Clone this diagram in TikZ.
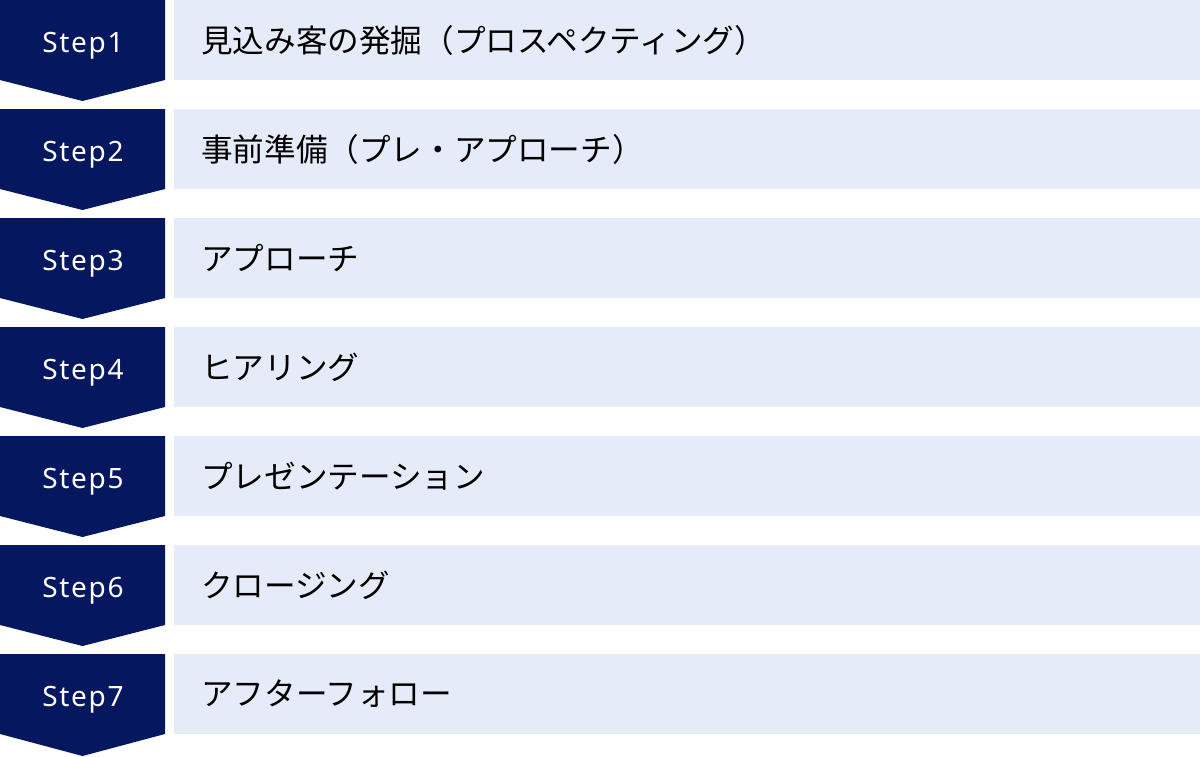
\documentclass[tikz,border=0pt]{standalone}
\usepackage{fontspec}
\setmainfont{Noto Sans}
\newfontfamily\jpfont{Noto Sans CJK JP}
\newfontfamily\stepfont[LetterSpace=6]{Noto Sans}
\definecolor{navy}{HTML}{04175F}
\definecolor{paleblue}{HTML}{E5EBF8}
\tikzset{
  stepbox/.style={fill=navy},
  taskbox/.style={fill=paleblue},
  steplabel/.style={anchor=base, text=white, font=\stepfont\fontsize{28}{33}\selectfont, inner sep=0pt},
  tasklabel/.style={anchor=west, text=black, font=\jpfont\fontsize{31.6}{37}\selectfont, inner sep=0pt}
}
\begin{document}
\begin{tikzpicture}[x=1pt,y=-1pt]
\useasboundingbox (0,0) rectangle (1200,756);

% step 1
\fill[stepbox] (0,0) -- (165,0) -- (165,80) -- (82.5,101) -- (0,80) -- cycle;
\fill[taskbox] (174,0) rectangle (1200,80);
\node[steplabel] (s1) at (83,52) {Step1};
\node[tasklabel] (t1) at (201,40) {見込み客の発掘（プロスペクティング）};

% step 2
\fill[stepbox] (0,109) -- (165,109) -- (165,189) -- (82.5,210) -- (0,189) -- cycle;
\fill[taskbox] (174,109) rectangle (1200,189);
\node[steplabel] (s2) at (83,161) {Step2};
\node[tasklabel] (t2) at (201,149) {事前準備（プレ・アプローチ）};

% step 3
\fill[stepbox] (0,218) -- (165,218) -- (165,298) -- (82.5,319) -- (0,298) -- cycle;
\fill[taskbox] (174,218) rectangle (1200,298);
\node[steplabel] (s3) at (83,270) {Step3};
\node[tasklabel] (t3) at (201,258) {アプローチ};

% step 4
\fill[stepbox] (0,327) -- (165,327) -- (165,407) -- (82.5,428) -- (0,407) -- cycle;
\fill[taskbox] (174,327) rectangle (1200,407);
\node[steplabel] (s4) at (83,379) {Step4};
\node[tasklabel] (t4) at (201,367) {ヒアリング};

% step 5
\fill[stepbox] (0,436) -- (165,436) -- (165,516) -- (82.5,537) -- (0,516) -- cycle;
\fill[taskbox] (174,436) rectangle (1200,516);
\node[steplabel] (s5) at (83,488) {Step5};
\node[tasklabel] (t5) at (201,476) {プレゼンテーション};

% step 6
\fill[stepbox] (0,545) -- (165,545) -- (165,625) -- (82.5,646) -- (0,625) -- cycle;
\fill[taskbox] (174,545) rectangle (1200,625);
\node[steplabel] (s6) at (83,597) {Step6};
\node[tasklabel] (t6) at (201,585) {クロージング};

% step 7
\fill[stepbox] (0,654) -- (165,654) -- (165,734) -- (82.5,756) -- (0,734) -- cycle;
\fill[taskbox] (174,654) rectangle (1200,734);
\node[steplabel] (s7) at (83,706) {Step7};
\node[tasklabel] (t7) at (201,694) {アフターフォロー};

\end{tikzpicture}
\end{document}
